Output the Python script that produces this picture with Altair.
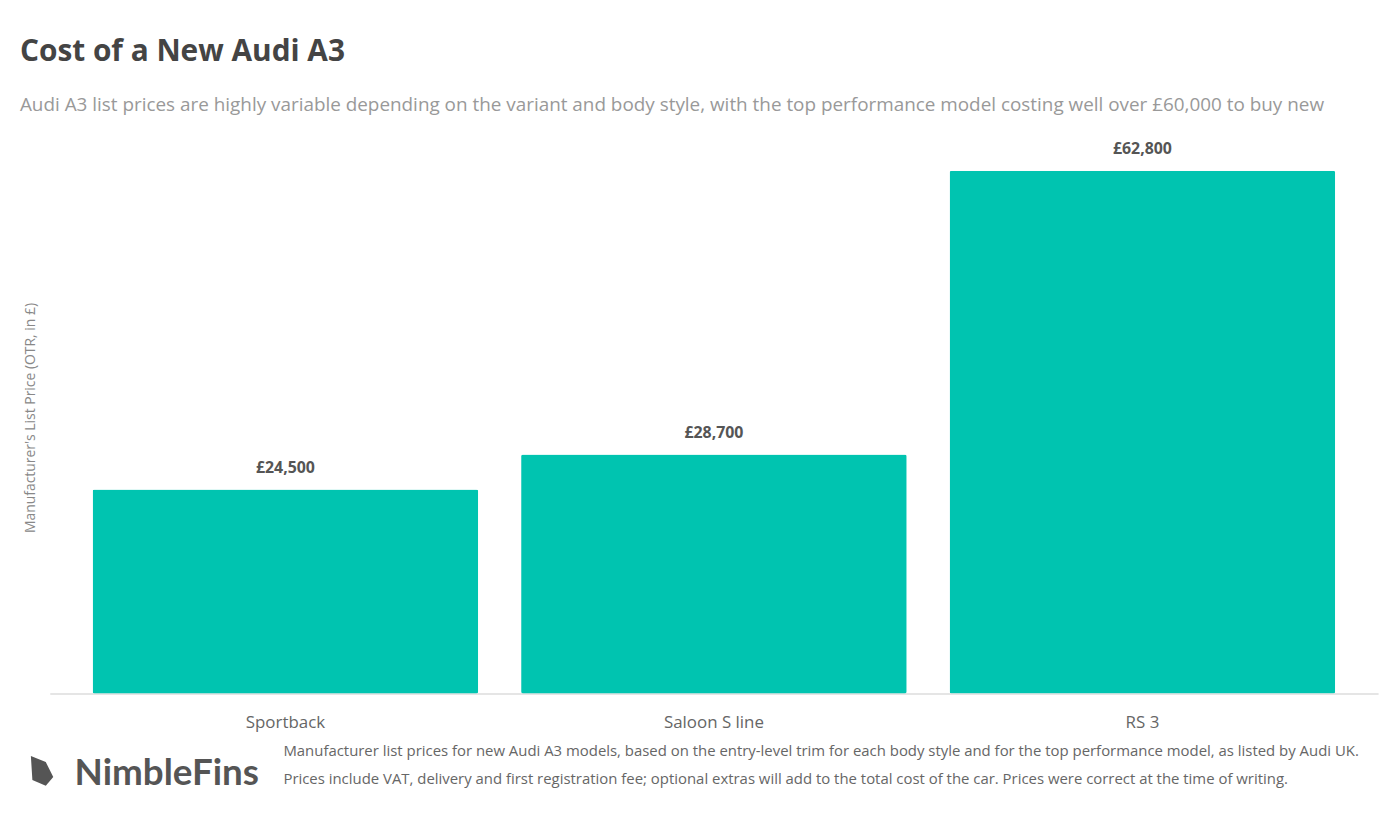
import altair as alt
import pandas as pd

variants = ["Sportback", "Saloon S line", "RS 3"]
prices = [24500, 28700, 62800]
price_labels = ["£24,500", "£28,700", "£62,800"]

title_text = "Cost of a New Audi A3"
subtitle_text = "Audi A3 list prices are highly variable depending on the variant and body style, with the top performance model costing well over £60,000 to buy new"
y_title = "Manufacturer's List Price (OTR, in £)"
footer_lines = [
    "Manufacturer list prices for new Audi A3 models, based on the entry-level trim for each body style and for the top performance model, as listed by Audi UK.",
    "Prices include VAT, delivery and first registration fee; optional extras will add to the total cost of the car. Prices were correct at the time of writing.",
]
brand = "NimbleFins"

df = pd.DataFrame({"variant": variants, "price": prices, "label": price_labels})

bar_color = "#00C4B0"

base = alt.Chart(df).encode(
    x=alt.X(
        "variant:N",
        sort=variants,
        title=None,
        scale=alt.Scale(paddingInner=0.1, paddingOuter=0.1),
        axis=alt.Axis(
            labelAngle=0,
            labelFontSize=17,
            labelColor="#666666",
            labelFont="Open Sans",
            labelPadding=21,
            ticks=False,
            domainColor="#dddddd",
            domainWidth=1.5,
        ),
    ),
    y=alt.Y(
        "price:Q",
        title=y_title,
        scale=alt.Scale(domain=[0, 66300], nice=False),
        axis=alt.Axis(
            labels=False,
            ticks=False,
            domain=False,
            grid=False,
            titleFontSize=14,
            titleFontWeight="normal",
            titleColor="#888888",
            titleFont="Open Sans",
            titlePadding=12,
        ),
    ),
)

bars = base.mark_bar(color=bar_color, cornerRadius=2)
labels = base.mark_text(
    dy=-14, baseline="bottom", fontSize=16, color="#555555", font="Open Sans", fontWeight="bold"
).encode(text="label:N")

foot_df = pd.DataFrame({"t": [footer_lines[0]]})
foot_df2 = pd.DataFrame({"t": [footer_lines[1]]})
brand_df = pd.DataFrame({"t": [brand]})

foot1 = alt.Chart(foot_df).mark_text(
    align="left", baseline="middle", fontSize=15, color="#666666", font="Open Sans"
).encode(x=alt.value(235), y=alt.value(613), text="t:N")
foot2 = alt.Chart(foot_df2).mark_text(
    align="left", baseline="middle", fontSize=15, color="#666666", font="Open Sans"
).encode(x=alt.value(235), y=alt.value(641), text="t:N")
brand_txt = alt.Chart(brand_df).mark_text(
    align="left", baseline="middle", fontSize=37, color="#555555", font="Lato", fontWeight="bold"
).encode(x=alt.value(25), y=alt.value(636), text="t:N")
icon = alt.Chart(brand_df).mark_point(
    shape="M-0.6,-1 L0.4,-0.6 L0.9,0.4 L0.4,1 L-0.5,0.6 Z", filled=True, color="#555555", size=900, opacity=1
).encode(x=alt.value(-10), y=alt.value(633))

chart = alt.layer(bars, labels, foot1, foot2, brand_txt, icon).properties(
    width=1336,
    height=555,
    background="white",
    autosize=alt.AutoSizeParams(type="none"),
    padding={"left": 42, "top": 132, "right": 14, "bottom": 130},
    title=alt.TitleParams(
        text=title_text,
        subtitle=subtitle_text,
        anchor="start",
        frame="group",
        dx=-30,
        offset=26,
        fontSize=30,
        font="Open Sans",
        fontWeight="bold",
        color="#444444",
        subtitleFontSize=19,
        subtitleFont="Open Sans",
        subtitleColor="#999999",
        subtitlePadding=29,
    ),
).configure_view(stroke="transparent", strokeWidth=0)

chart.save("out.html", embed_options={"renderer": "svg", "actions": False})
